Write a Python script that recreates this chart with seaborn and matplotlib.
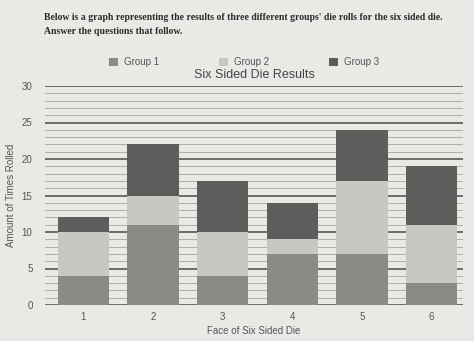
import matplotlib
matplotlib.use("Agg")
import matplotlib.pyplot as plt
import seaborn as sns
import pandas as pd
import numpy as np
from matplotlib.patches import Patch

faces = ["1", "2", "3", "4", "5", "6"]
group1 = [4, 11, 4, 7, 7, 3]
group2 = [6, 4, 6, 2, 10, 8]
group3 = [2, 7, 7, 5, 7, 8]
groups = ["Group 1", "Group 2", "Group 3"]
colors = {"Group 1": "#8c8a87", "Group 2": "#c9c7c4", "Group 3": "#5f5d5b"}
yticks = [0, 5, 10, 15, 20, 25, 30]

sns.set_theme(style="white")
plt.rcParams["font.family"] = ["Liberation Sans", "DejaVu Sans"]

bg = "#ebe9e6"
fig = plt.figure(figsize=(4.74, 3.41), dpi=100, facecolor=bg)
ax = fig.add_axes([45 / 474, 1 - 305 / 341, 418 / 474, 219 / 341], facecolor=bg)

df = pd.DataFrame({"face": faces, "g1": group1, "g2": group2, "g3": group3})
df["c1"] = df["g1"]
df["c2"] = df["g1"] + df["g2"]
df["c3"] = df["c2"] + df["g3"]

# minor & major gridlines behind bars
for v in range(0, 31):
    if v % 5 == 0:
        ax.axhline(v, color="#4a4a4a", lw=1.1, zorder=0)
    else:
        ax.axhline(v, color="#b0aeab", lw=0.7, zorder=0)

for col, g in zip(["c3", "c2", "c1"], ["Group 3", "Group 2", "Group 1"]):
    sns.barplot(data=df, x="face", y=col, color=colors[g], width=0.74,
                saturation=1, ax=ax, zorder=2, linewidth=0)

ax.set_ylim(0, 30)
ax.set_xlim(-0.55, 5.45)
ax.set_yticks(yticks)
ax.set_yticklabels([str(t) for t in yticks], fontsize=7, color="#555555")
ax.tick_params(axis="x", labelsize=7, colors="#555555", length=0, pad=5)
ax.tick_params(axis="y", length=0, pad=9)
for s in ax.spines.values():
    s.set_visible(False)
ax.set_xlabel("Face of Six Sided Die", fontsize=7, color="#555555", labelpad=3)
ax.set_ylabel("Amount of Times Rolled", fontsize=7, color="#555555", labelpad=4)
ax.set_title("Six Sided Die Results", fontsize=9, color="#444444", pad=6)

handles = [Patch(facecolor=colors[g], edgecolor="none", label=g) for g in groups]
fig.legend(handles=handles, ncol=3, loc="center", bbox_to_anchor=(0.515, 1 - 62 / 341),
           frameon=False, fontsize=7, handlelength=0.9, handleheight=0.9,
           columnspacing=6.2, handletextpad=0.6, labelcolor="#555555")

fig.text(44 / 474, 1 - 18 / 341,
         "Below is a graph representing the results of three different groups' die rolls for the six sided die.",
         fontsize=7.05, fontweight="bold", family="Liberation Serif", color="#2a2a2a", va="center")
fig.text(44 / 474, 1 - 32 / 341, "Answer the questions that follow.",
         fontsize=7.05, fontweight="bold", family="Liberation Serif", color="#2a2a2a", va="center")

fig.savefig("out.png", dpi=100, facecolor=bg)
